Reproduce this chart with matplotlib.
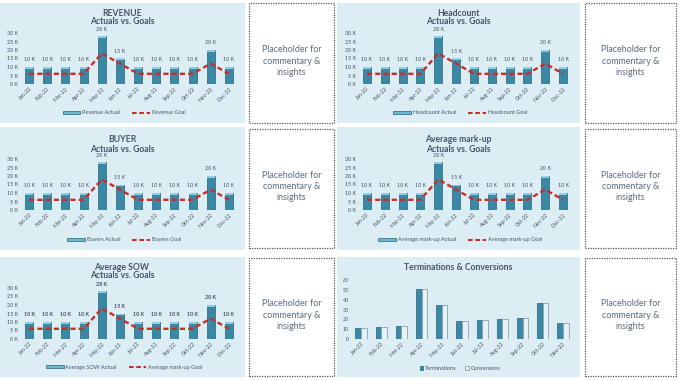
import matplotlib
matplotlib.use('Agg')
import matplotlib.pyplot as plt
from matplotlib.patches import Rectangle, Patch
from matplotlib.lines import Line2D

plt.rcParams['font.family'] = ['Lato', 'DejaVu Sans']

months = ['Jan-22', 'Feb-22', 'Mar-22', 'Apr-22', 'May-22', 'Jun-22',
          'Jul-22', 'Aug-22', 'Sep-22', 'Oct-22', 'Nov-22', 'Dec-22']

revenue_actual = [10, 10, 10, 10, 28, 15, 10, 10, 10, 10, 20, 10]
revenue_goal = [6, 6, 6, 6, 18, 12, 6, 6, 6, 6, 12, 6]
headcount_actual = [10, 10, 10, 10, 28, 15, 10, 10, 10, 10, 20, 10]
headcount_goal = [6, 6, 6, 6, 18, 12, 6, 6, 6, 6, 12, 6]
buyers_actual = [10, 10, 10, 10, 28, 15, 10, 10, 10, 10, 20, 10]
buyers_goal = [6, 6, 6, 6, 18, 12, 6, 6, 6, 6, 12, 6]
markup_actual = [10, 10, 10, 10, 28, 15, 10, 10, 10, 10, 20, 10]
markup_goal = [6, 6, 6, 6, 18, 12, 6, 6, 6, 6, 12, 6]
sow_actual = [10, 10, 10, 10, 28, 15, 10, 10, 10, 10, 20, 10]
sow_goal = [6, 6, 6, 6, 18, 12, 6, 6, 6, 6, 12, 6]

term_months = months[:11]
terminations = [11, 12, 13, 51, 35, 18, 19, 20, 21, 37, 16]
conversions = [11, 12, 13, 51, 35, 18, 19, 20, 21, 37, 16]

k_ticks = [0, 5, 10, 15, 20, 25, 30]
k_tick_labels = ['0 K', '5 K', '10 K', '15 K', '20 K', '25 K', '30 K']
tc_ticks = [0, 10, 20, 30, 40, 50, 60]

W, H = 680, 381
BG = '#DDEDF4'
TXT = '#44546A'
BAR = '#3A88A6'
BAR_EDGE = '#24637A'
BAR_TOP = '#8FCFE4'
RED = '#C4302B'
LIGHT = '#E4F2F8'

fig = plt.figure(figsize=(6.8, 3.81), dpi=100)


def fx(x):
    return x / W


def fy(y):
    return 1 - y / H


def panel(x0, y0, x1, y1):
    fig.patches.append(Rectangle((fx(x0), fy(y1)), (x1 - x0) / W, (y1 - y0) / H,
                                 transform=fig.transFigure, facecolor=BG,
                                 edgecolor='none', zorder=-10))


def placeholder(x0, y0, x1, y1):
    fig.patches.append(Rectangle((fx(x0), fy(y1)), (x1 - x0) / W, (y1 - y0) / H,
                                 transform=fig.transFigure, facecolor='white',
                                 edgecolor='#555555', linewidth=0.9,
                                 linestyle=(0, (1, 1)), zorder=-10))
    fig.text(fx((x0 + x1) / 2), fy((y0 + y1) / 2 - 2),
             'Placeholder for\ncommentary &\ninsights', ha='center', va='center',
             fontsize=6.4, color='#5A6B7C', linespacing=1.35)


def make_axes(l, t, r, b):
    ax = fig.add_axes([fx(l), fy(b), (r - l) / W, (b - t) / H])
    ax.patch.set_alpha(0)
    for s in ax.spines.values():
        s.set_visible(False)
    ax.tick_params(length=0, labelsize=3.9, colors=TXT, pad=1.5)
    return ax


def goal_chart(l, t, r, b, cx, title1, ty1, ty2, ly, actual, goal,
               lab_actual, lab_goal, bold_labels=False):
    ax = make_axes(l, t, r, b)
    x = list(range(len(months)))
    ax.bar(x, actual, width=0.44, color=BAR, edgecolor=BAR_EDGE, linewidth=0.5, zorder=2)
    ax.bar(x, [0.9] * len(actual), bottom=[v - 0.9 for v in actual], width=0.44,
           color=BAR_TOP, edgecolor='none', zorder=3)
    ax.plot(x, goal, color=RED, linewidth=1.7, linestyle=(0, (2.2, 1.3)), zorder=4)
    for xi, v in zip(x, actual):
        ax.annotate(f'{v} K', (xi, v), xytext=(0, 3.5), textcoords='offset points',
                    ha='center', va='bottom', fontsize=3.9, color=TXT,
                    fontweight='bold' if bold_labels else 'normal')
    ax.set_xlim(-0.5, len(months) - 0.5)
    ax.set_ylim(0, 30)
    ax.set_yticks(k_ticks)
    ax.set_yticklabels(k_tick_labels)
    ax.set_xticks(x)
    ax.set_xticklabels(months, rotation=45, ha='right', rotation_mode='anchor')
    fig.text(fx(cx), fy(ty1), title1, ha='center', va='center', fontsize=6.2,
             fontweight='bold', color=TXT)
    fig.text(fx(cx), fy(ty2), 'Actuals vs. Goals', ha='center', va='center',
             fontsize=6.2, fontweight='bold', color=TXT)
    handles = [Patch(facecolor='#6FB8D2', edgecolor=BAR_EDGE, linewidth=0.5),
               Line2D([], [], color=RED, linewidth=1.5, linestyle=(0, (2.2, 1.3)))]
    ax.legend(handles, [lab_actual, lab_goal], loc='center',
              bbox_to_anchor=(fx(cx + 2), fy(ly)), bbox_transform=fig.transFigure,
              ncol=2, frameon=False, fontsize=4, handlelength=3.2,
              handleheight=0.5, columnspacing=2.2, handletextpad=0.3,
              labelcolor=TXT)
    return ax


# panels
for (x0, y0, x1, y1) in [(0, 3, 245, 123), (337, 3, 580, 123),
                         (0, 127, 245, 250), (337, 127, 580, 250),
                         (0, 257, 245, 377), (337, 257, 580, 377)]:
    panel(x0, y0, x1, y1)

for (x0, y0, x1, y1) in [(249, 3, 334, 123), (585, 3, 676, 123),
                         (249, 129, 334, 248), (585, 129, 676, 248),
                         (249, 258, 334, 376), (585, 258, 676, 376)]:
    placeholder(x0, y0, x1, y1)

goal_chart(20, 33, 238, 84, 122, 'REVENUE', 13, 22, 113,
           revenue_actual, revenue_goal, 'Revenue Actual', 'Revenue Goal')
goal_chart(358, 33, 572, 84, 458, 'Headcount', 13, 22, 113,
           headcount_actual, headcount_goal, 'Headcount Actual', 'Headcount Goal')
goal_chart(20, 159, 238, 210, 122, 'BUYER', 139, 149, 240,
           buyers_actual, buyers_goal, 'Buyers Actual', 'Buyers Goal')
goal_chart(358, 159, 572, 210, 458, 'Average mark-up', 139, 149, 240,
           markup_actual, markup_goal, 'Average mark-up Actual', 'Average mark-up Goal')
goal_chart(20, 288, 238, 339, 122, 'Average SOW', 267, 276, 367,
           sow_actual, sow_goal, 'Average SOW Actual', 'Average mark-up Goal',
           bold_labels=True)

# Terminations & Conversions
ax = make_axes(351, 280, 573, 339)
xt = list(range(len(term_months)))
w = 0.28
ax.bar([i - w / 2 for i in xt], terminations, width=w, color=BAR,
       edgecolor=BAR_EDGE, linewidth=0.5, zorder=2, label='Terminations')
ax.bar([i + w / 2 for i in xt], conversions, width=w, color=LIGHT,
       edgecolor='#8E9EA6', linewidth=0.6, zorder=2, label='Conversions')
ax.set_xlim(-0.5, len(term_months) - 0.5)
ax.set_ylim(0, 60)
ax.set_yticks(tc_ticks)
ax.set_xticks(xt)
ax.set_xticklabels(term_months, rotation=45, ha='right', rotation_mode='anchor')
fig.text(fx(458), fy(268), 'Terminations & Conversions', ha='center', va='center',
         fontsize=6.2, fontweight='bold', color=TXT)
ax.legend(loc='center', bbox_to_anchor=(fx(460), fy(368)),
          bbox_transform=fig.transFigure, ncol=2, frameon=False, fontsize=4,
          handlelength=0.7, handleheight=0.7, columnspacing=1.5,
          handletextpad=0.3, labelcolor=TXT)

fig.savefig('out.png', dpi=100, facecolor='white')
